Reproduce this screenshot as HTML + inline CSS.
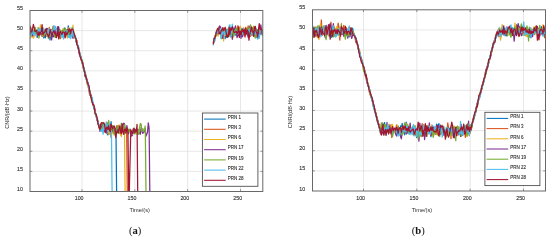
<!DOCTYPE html>
<html><head><meta charset="utf-8"><title>CNR</title>
<style>html,body{margin:0;padding:0;background:#fff}svg{display:block}</style></head>
<body>
<svg width="550" height="240" viewBox="0 0 550 240" font-family="'Liberation Sans', Arial, sans-serif">
<rect width="550" height="240" fill="#fff"/>
<clipPath id="ca"><rect x="30.0" y="10.5" width="232.8" height="181"/></clipPath>
<path d="M82 10.5V191.5M134.84 10.5V191.5M187.67 10.5V191.5M240.5 10.5V191.5M30.0 171.39H262.8M30.0 151.28H262.8M30.0 131.17H262.8M30.0 111.06H262.8M30.0 90.94H262.8M30.0 70.83H262.8M30.0 50.72H262.8M30.0 30.61H262.8" stroke="#dcdcdc" stroke-width="0.7" fill="none"/>
<g clip-path="url(#ca)" fill="none" stroke-width="1.25" stroke-linejoin="round"><path d="M30 32.02L30.22 31.08L31.01 32.88L31.81 34.81L32.6 33.45L33.39 35.13L34.18 31.83L34.98 27.81L35.77 33.56L36.56 33.97L37.35 30.48L38.15 30.9L38.94 31.69L39.73 34.94L40.52 32.11L41.32 29.84L42.11 36.24L42.9 33.45L43.69 37.98L44.49 36.06L45.28 37.8L46.07 32.76L46.86 36L47.66 31.17L48.45 31.53L49.24 32.61L50.03 39.91L50.83 33.71L51.62 32.17L52.41 31.66L53.2 36.82L54 33.52L54.79 35.09L55.58 34.56L56.38 28.69L57.17 34.55L57.96 32.12L58.75 29.24L59.55 33.85L60.34 32.37L61.13 31.67L61.92 31.82L62.72 35.86L63.51 31.78L64.3 27.76L65.09 36.87L65.89 29.32L66.68 31.64L67.47 34.03L68.26 25.76L69.06 29.66L69.85 35.85L70.64 31.92L71.43 30.5L72.23 33.2L73.02 31.03L73.81 34.24L74.6 34.89L75.4 36.02L76.19 41.04L76.98 42.71L77.77 46.39L78.57 48.62L79.36 53.19L80.15 55.46L80.94 58L81.74 59.7L82.53 62.41L83.32 68.41L84.11 70.79L84.91 72.06L85.7 78.27L86.49 79.44L87.28 82.01L88.08 83.39L88.87 87.1L89.66 91.34L90.45 94.41L91.25 97.28L92.04 98.16L92.83 103.53L93.62 106.39L94.42 108.62L95.21 112.21L96 115.32L96.79 119.44L97.59 121.13L98.38 124.66L99.17 125.74L99.96 129.37L100.76 126.23L101.55 124.3L102.34 127.83L103.13 123.62L103.93 127.28L104.72 125.62L105.51 131.87L106.3 126.81L107.1 133.56L107.89 134.86L108.68 129.46L109.47 131.54L110.27 128.27L111.06 121.72L111.85 131.75L112.64 131.21L113.44 128.66L114.23 127.85L115.02 130.11L115.81 130.3L115.95 129.47L116.95 223.68M213.29 42.75L214.09 41.91L214.88 38.05L215.67 35.19L216.47 33.79L217.26 31.2L218.05 34.71L218.84 28.97L219.64 31.41L220.43 31.74L221.22 33.87L222.01 32.39L222.81 38.29L223.6 35.57L224.39 30.88L225.18 38.7L225.98 29.36L226.77 37.5L227.56 29.64L228.35 34.67L229.15 29.57L229.94 31.61L230.73 36.84L231.52 28.1L232.32 27.5L233.11 32.23L233.9 32.88L234.69 32.52L235.49 35.08L236.28 28.57L237.07 33.72L237.86 32.18L238.66 34.51L239.45 33.98L240.24 36.03L241.03 28.08L241.83 32.5L242.62 28.99L243.41 31.98L244.2 34.2L245 33.04L245.79 33.78L246.58 31.99L247.37 33.2L248.17 32.96L248.96 36.34L249.75 34.55L250.54 26.83L251.34 34.12L252.13 35.33L252.92 30.96L253.71 27.6L254.51 36.58L255.3 32.67L256.09 34L256.88 37.54L257.68 29.71L258.47 32.09L259.26 31.79L260.05 34.38L260.85 30.59L261.64 33.71L262.43 32.47" stroke="#0072BD"/><path d="M30 35.5L30.22 35.83L31.01 27.83L31.81 33.61L32.6 31.1L33.39 32.12L34.18 33.4L34.98 33.61L35.77 30.04L36.56 32.97L37.35 32.49L38.15 31.95L38.94 28.33L39.73 29.88L40.52 30.82L41.32 33.79L42.11 36.35L42.9 29.04L43.69 28.99L44.49 32.46L45.28 30.32L46.07 29.57L46.86 29.41L47.66 29.13L48.45 33.45L49.24 27.27L50.03 35.93L50.83 29.32L51.62 30.47L52.41 29.28L53.2 26.12L54 27.36L54.79 35.61L55.58 37.32L56.38 29.46L57.17 35.2L57.96 32.06L58.75 29.38L59.55 37.18L60.34 38.64L61.13 31.21L61.92 31.88L62.72 32.79L63.51 31.9L64.3 34.72L65.09 36.77L65.89 32.54L66.68 35.07L67.47 37.18L68.26 30.45L69.06 32.24L69.85 30.81L70.64 35.26L71.43 34.37L72.23 35.74L73.02 35.96L73.81 33.93L74.6 36.64L75.4 37.32L76.19 39.81L76.98 40.51L77.77 47.51L78.57 47.7L79.36 51.87L80.15 54.78L80.94 59.52L81.74 61.34L82.53 62.9L83.32 66.91L84.11 69.73L84.91 73.2L85.7 74.47L86.49 78.9L87.28 84.55L88.08 85.75L88.87 90.3L89.66 94.87L90.45 94.6L91.25 95.37L92.04 99.94L92.83 104.43L93.62 107.16L94.42 107.68L95.21 111.87L96 115.02L96.79 118.16L97.59 121.06L98.38 123.16L99.17 126.48L99.96 129.9L100.76 129.51L101.55 124.81L102.34 128.94L103.13 123.49L103.93 131.35L104.72 127.94L105.51 127.74L106.3 132.19L107.1 122.58L107.89 123.61L108.68 129.97L109.47 126.16L110.27 127.58L111.06 137.35L111.85 128.27L112.64 129.4L113.44 129.05L114.23 132.9L115.02 130.41L115.81 130.21L116.61 125.91L117.4 128.74L118.19 129.92L118.98 125.06L119.78 131.83L120.57 131.37L121.36 136.02L122.15 125.19L122.95 127.19L123.74 127.4L124.53 128.25L125.32 130.09L126.12 129.79L126.65 131.77L127.65 223.68M213.29 43.63L214.09 40.6L214.88 36.13L215.67 34.57L216.47 32.59L217.26 33.84L218.05 34.01L218.84 26.99L219.64 30.43L220.43 31.81L221.22 33.1L222.01 35.5L222.81 32.23L223.6 29.28L224.39 33.25L225.18 32.73L225.98 32.71L226.77 31.68L227.56 37.02L228.35 32.76L229.15 34.7L229.94 29.24L230.73 34.44L231.52 30.21L232.32 27.24L233.11 33L233.9 33.91L234.69 31.42L235.49 32.03L236.28 35.14L237.07 30.57L237.86 25.7L238.66 32.83L239.45 32.66L240.24 35.3L241.03 31.02L241.83 35.93L242.62 35.49L243.41 28L244.2 34.86L245 28.63L245.79 27.24L246.58 31.21L247.37 30.28L248.17 25.89L248.96 32.64L249.75 33.88L250.54 36.26L251.34 31.89L252.13 27.38L252.92 29.01L253.71 34.97L254.51 34.7L255.3 33.6L256.09 31.1L256.88 32.66L257.68 31.35L258.47 31.09L259.26 32.96L260.05 32.14L260.85 31.37L261.64 32.28L262.43 30.44" stroke="#D95319"/><path d="M30 26.15L30.22 30.16L31.01 31.84L31.81 37.31L32.6 30.8L33.39 38.13L34.18 36.44L34.98 29.34L35.77 29.8L36.56 32.49L37.35 37.38L38.15 33.18L38.94 34.15L39.73 30.02L40.52 24.94L41.32 31.34L42.11 34.46L42.9 35.69L43.69 32.19L44.49 32.57L45.28 35.63L46.07 31.65L46.86 35.63L47.66 28.53L48.45 28.68L49.24 28.62L50.03 33.51L50.83 30.4L51.62 32.43L52.41 33.24L53.2 33.08L54 36.1L54.79 36.55L55.58 29.53L56.38 32.62L57.17 31.34L57.96 28.88L58.75 37.46L59.55 34.48L60.34 31.47L61.13 30.79L61.92 33.2L62.72 28.79L63.51 31.36L64.3 35.83L65.09 34.94L65.89 29.49L66.68 30.56L67.47 37.98L68.26 27.81L69.06 30.17L69.85 27.87L70.64 33.36L71.43 33.23L72.23 36.14L73.02 25.22L73.81 34.38L74.6 33.78L75.4 38.53L76.19 40.02L76.98 44.97L77.77 46.29L78.57 47.59L79.36 53.27L80.15 53.46L80.94 57.36L81.74 62.04L82.53 64.4L83.32 67.37L84.11 69.89L84.91 73.49L85.7 76.86L86.49 79.25L87.28 83.13L88.08 86.47L88.87 87.99L89.66 89.88L90.45 95.81L91.25 96.97L92.04 100.78L92.83 104.19L93.62 105L94.42 109.67L95.21 110.25L96 116.02L96.79 117.63L97.59 121.39L98.38 125.04L99.17 126.44L99.96 130.35L100.76 124.21L101.55 126.61L102.34 130.23L103.13 127.34L103.93 127.09L104.72 124.41L105.51 130.64L106.3 128.05L107.1 133.67L107.89 126.21L108.68 131.96L109.47 134.46L110.27 128.99L111.06 125.38L111.85 133.98L112.64 132.7L113.44 131.71L114.23 133.07L115.02 128.32L115.81 132.23L116.61 132.05L117.4 127.94L118.19 132.33L118.98 128.58L119.78 133.17L120.57 134.02L121.36 136.09L122.15 124.25L122.95 131.33L123.74 129.56L124.45 131.24L125.45 223.68M213.29 43.19L214.09 40.61L214.88 35.65L215.67 36.49L216.47 34.4L217.26 35.19L218.05 36.21L218.84 29.68L219.64 29.45L220.43 35.03L221.22 36.38L222.01 33.13L222.81 27.65L223.6 40.86L224.39 30.37L225.18 35.39L225.98 28.75L226.77 35.4L227.56 32.91L228.35 36.74L229.15 35.08L229.94 27.67L230.73 29.44L231.52 33.28L232.32 34.75L233.11 37.96L233.9 33.25L234.69 32.12L235.49 32.28L236.28 32.31L237.07 35.54L237.86 32.23L238.66 32.14L239.45 27.97L240.24 26.16L241.03 32.45L241.83 34.42L242.62 32.22L243.41 33.93L244.2 34.35L245 32.2L245.79 35.29L246.58 30.12L247.37 32.34L248.17 31.23L248.96 32.59L249.75 34.3L250.54 34.99L251.34 32.76L252.13 33.74L252.92 31.29L253.71 32.03L254.51 36.29L255.3 31.81L256.09 36.23L256.88 33.95L257.68 32.94L258.47 38.53L259.26 31.73L260.05 31.55L260.85 32.51L261.64 33.35L262.43 33.19" stroke="#EDB120"/><path d="M30 35.08L30.22 32.87L31.01 33.75L31.81 31.73L32.6 35.8L33.39 31.28L34.18 31.57L34.98 32.46L35.77 33.4L36.56 30.29L37.35 37.24L38.15 30.57L38.94 31.26L39.73 31.13L40.52 30.82L41.32 34.07L42.11 32.83L42.9 30.02L43.69 30.67L44.49 31.37L45.28 36.77L46.07 30.33L46.86 28.35L47.66 28.85L48.45 31.29L49.24 36.91L50.03 29.06L50.83 32.48L51.62 39.96L52.41 30.84L53.2 36.7L54 36.09L54.79 34.01L55.58 28.03L56.38 33.18L57.17 31.17L57.96 26.53L58.75 27.02L59.55 32.34L60.34 32.78L61.13 35.97L61.92 34.2L62.72 30.68L63.51 30.78L64.3 31.67L65.09 28.9L65.89 34.44L66.68 32.19L67.47 29.72L68.26 30.2L69.06 28.69L69.85 30.84L70.64 33.13L71.43 31.17L72.23 35.75L73.02 38.32L73.81 33.46L74.6 35.76L75.4 37.38L76.19 42.27L76.98 43.39L77.77 46.55L78.57 49.82L79.36 54.48L80.15 55.16L80.94 56.69L81.74 60.32L82.53 64.52L83.32 66.83L84.11 68.91L84.91 76.18L85.7 76.01L86.49 78.22L87.28 81.07L88.08 82.86L88.87 86.56L89.66 90.57L90.45 93.6L91.25 96.03L92.04 100.65L92.83 103.06L93.62 104.93L94.42 106.68L95.21 112.25L96 115.14L96.79 117.85L97.59 119.49L98.38 124.16L99.17 125.37L99.96 131.33L100.76 126.75L101.55 127.09L102.34 124.21L103.13 123.65L103.93 132.12L104.72 130.44L105.51 126.64L106.3 130.05L107.1 133.02L107.89 124.97L108.68 126.89L109.47 127.06L110.27 130.33L111.06 125.63L111.85 129.85L112.64 125.67L113.44 132.26L114.23 132.18L115.02 128.88L115.81 131.9L116.61 127.56L117.4 128.98L118.19 132.87L118.98 129.74L119.78 131.18L120.57 127.17L121.36 132.21L122.15 131.65L122.95 126.4L123.74 123.14L124.53 123.97L125.32 130.24L126.12 129.78L126.91 125.59L127.7 130.97L128.49 133.75L129.29 130.26L130.08 129.22L130.87 133.37L131.66 136.03L132.46 135.38L133.25 128.64L134.04 133.24L134.84 131.28L135.63 130.16L136.42 128.87L137.21 131.96L138.01 129.3L138.8 133.78L139.59 132.1L140.38 134.24L141.18 127.32L141.97 131.06L142.76 133.36L143.55 132.13L144.35 131.72L145.14 128.76L145.93 136.16L146.72 134.37L147.52 132.26L148.31 122.9L149.1 127.98L149.15 131.44L150.15 223.68M213.29 42.52L214.09 38.18L214.88 38.23L215.67 35.68L216.47 31.06L217.26 30.47L218.05 29.91L218.84 33.61L219.64 25.98L220.43 26.66L221.22 30.24L222.01 29.87L222.81 38.38L223.6 30.02L224.39 32.63L225.18 30.66L225.98 29.88L226.77 33.09L227.56 37.32L228.35 30.86L229.15 34.34L229.94 33.05L230.73 33.92L231.52 33.09L232.32 39.26L233.11 28.2L233.9 31.22L234.69 28.53L235.49 25.81L236.28 31.95L237.07 37.67L237.86 34.82L238.66 35.81L239.45 33.59L240.24 31.77L241.03 38.3L241.83 30.94L242.62 36.76L243.41 31.09L244.2 32.36L245 33L245.79 32.25L246.58 33.71L247.37 33.94L248.17 37.3L248.96 32.11L249.75 26.23L250.54 25.81L251.34 27.87L252.13 29.8L252.92 34.14L253.71 27.49L254.51 32.19L255.3 32.23L256.09 32.93L256.88 31.73L257.68 33.38L258.47 32.28L259.26 35.42L260.05 33.19L260.85 24.86L261.64 32.24L262.43 32.77" stroke="#7E2F8E"/><path d="M30 30.35L30.22 29.8L31.01 35.51L31.81 32.67L32.6 29.14L33.39 31.17L34.18 31.64L34.98 27.14L35.77 34.15L36.56 31.76L37.35 33.65L38.15 27.34L38.94 38.14L39.73 34.12L40.52 33.68L41.32 29.94L42.11 30.12L42.9 27.64L43.69 36.96L44.49 29.66L45.28 32.94L46.07 34.11L46.86 30.33L47.66 34.91L48.45 38.53L49.24 33.18L50.03 36.72L50.83 34.05L51.62 30.85L52.41 31.04L53.2 27.04L54 32.65L54.79 36.83L55.58 34.39L56.38 34.9L57.17 35.84L57.96 30.65L58.75 34.04L59.55 38.22L60.34 29.83L61.13 32.37L61.92 30.9L62.72 31.69L63.51 30.04L64.3 31.9L65.09 28.14L65.89 30.69L66.68 30.79L67.47 30.73L68.26 36.6L69.06 32.57L69.85 32.9L70.64 31.51L71.43 36.57L72.23 27.48L73.02 32.85L73.81 35.63L74.6 37.75L75.4 38.09L76.19 40.33L76.98 43.82L77.77 45.72L78.57 49.55L79.36 51.09L80.15 55.63L80.94 57.81L81.74 59.6L82.53 60.69L83.32 68.03L84.11 70.39L84.91 73.86L85.7 74.91L86.49 80.26L87.28 82.48L88.08 84.95L88.87 89.11L89.66 92.1L90.45 94.54L91.25 99.51L92.04 101.74L92.83 103.51L93.62 105.85L94.42 109.27L95.21 114.2L96 115.64L96.79 117.13L97.59 120.44L98.38 124.22L99.17 128.22L99.96 129.4L100.76 128.01L101.55 130.22L102.34 129.32L103.13 122.35L103.93 126.55L104.72 123.77L105.51 129.26L106.3 124.91L107.1 130.06L107.89 128.82L108.68 120.48L109.47 126.18L110.27 130.41L111.06 129.21L111.85 128.03L112.64 125.31L113.44 130.9L114.23 135.04L115.02 130.44L115.81 129.59L116.61 129.38L117.4 125.58L118.19 128.88L118.98 127.36L119.78 133.59L120.57 127.32L121.36 123.43L122.15 127.75L122.95 129.48L123.74 129.85L124.53 124.65L125.32 133.43L126.12 130.85L126.91 129.05L127.7 128.17L128.49 132.01L129.29 129.65L130.08 131.56L130.87 130.31L131.66 131.15L132.46 134.43L133.25 130.85L134.04 127.98L134.84 133.94L135.63 131.62L136.42 128.73L137.21 134.33L138.01 130.31L138.8 134.33L139.59 127.28L140.38 123.5L141.18 124.45L141.97 131.68L142.76 128.6L143.55 130.61L144.35 130.68L145.14 126.03L145.35 134.35L146.35 223.68M213.29 42.11L214.09 40.73L214.88 36.25L215.67 35.01L216.47 33.33L217.26 31.15L218.05 29.71L218.84 31.91L219.64 30.49L220.43 33.66L221.22 38.71L222.01 29.2L222.81 29.83L223.6 31.55L224.39 31.8L225.18 28.77L225.98 33.45L226.77 34.24L227.56 32.61L228.35 28.29L229.15 36.37L229.94 28.28L230.73 34.02L231.52 35.47L232.32 28.07L233.11 32.32L233.9 36.1L234.69 33.14L235.49 29.1L236.28 28.28L237.07 33.36L237.86 30.74L238.66 29.78L239.45 34.04L240.24 30.91L241.03 32.12L241.83 33.7L242.62 33.56L243.41 31.81L244.2 31.93L245 33.79L245.79 33.36L246.58 28.53L247.37 31.35L248.17 29.24L248.96 28.25L249.75 30.17L250.54 24.89L251.34 34.61L252.13 29.48L252.92 33.02L253.71 26.2L254.51 26.68L255.3 38.15L256.09 35.06L256.88 29.93L257.68 29.54L258.47 29.71L259.26 32.24L260.05 30.59L260.85 29.97L261.64 32.26L262.43 28.8" stroke="#77AC30"/><path d="M30 39.11L30.22 30.03L31.01 35.26L31.81 29.01L32.6 32.74L33.39 34.81L34.18 30.85L34.98 34.88L35.77 34.88L36.56 36.94L37.35 32.1L38.15 30.46L38.94 28.81L39.73 32.46L40.52 28.73L41.32 31.96L42.11 32.31L42.9 30.22L43.69 28.7L44.49 33.09L45.28 32.78L46.07 32.52L46.86 31.76L47.66 34.84L48.45 28.79L49.24 33.28L50.03 30.57L50.83 34.61L51.62 30.89L52.41 30.79L53.2 33.34L54 25.68L54.79 30.85L55.58 26.44L56.38 29.01L57.17 34.1L57.96 33.22L58.75 30.65L59.55 31.83L60.34 31.86L61.13 32.92L61.92 37.69L62.72 32.73L63.51 38.98L64.3 30.85L65.09 34.3L65.89 34.26L66.68 32.71L67.47 31.16L68.26 36.53L69.06 37.54L69.85 35.43L70.64 38.56L71.43 35.34L72.23 27.62L73.02 36.49L73.81 33.38L74.6 37.35L75.4 37.39L76.19 40.61L76.98 43.02L77.77 45.14L78.57 46.65L79.36 51.52L80.15 54.61L80.94 58.94L81.74 60.08L82.53 64.09L83.32 65.81L84.11 69.88L84.91 70.74L85.7 78.25L86.49 79.24L87.28 80.83L88.08 85.33L88.87 88.88L89.66 91.27L90.45 95.63L91.25 96.83L92.04 97.05L92.83 101.63L93.62 107.37L94.42 110.1L95.21 112.55L96 113.87L96.79 119.09L97.59 121.94L98.38 123.06L99.17 126.1L99.96 130.61L100.76 129.75L101.55 131.44L102.34 128.99L103.13 134.19L103.93 124.85L104.72 129.52L105.51 126.17L106.3 121.92L107.1 124.35L107.89 132.01L108.68 125.69L109.47 124.92L110.27 131.2L111.06 132.01L111.45 131.43L112.45 223.68M213.29 45.31L214.09 38.89L214.88 40.85L215.67 36.57L216.47 32.85L217.26 32.73L218.05 31.5L218.84 31.17L219.64 32.69L220.43 28.45L221.22 38.73L222.01 32.02L222.81 34.26L223.6 31.6L224.39 31.33L225.18 34.88L225.98 34.03L226.77 29.53L227.56 30.92L228.35 34.15L229.15 25.62L229.94 24.77L230.73 36.61L231.52 31.07L232.32 24.15L233.11 29.56L233.9 31.33L234.69 32.67L235.49 33.72L236.28 32.69L237.07 33.75L237.86 29.68L238.66 33.27L239.45 33.4L240.24 35.79L241.03 32.17L241.83 34.82L242.62 32.59L243.41 28.75L244.2 30.87L245 30.44L245.79 30.9L246.58 31.83L247.37 32.42L248.17 32.98L248.96 29.64L249.75 35.42L250.54 27.81L251.34 31.91L252.13 34.37L252.92 33.55L253.71 34.14L254.51 31.52L255.3 34.27L256.09 28.44L256.88 34.47L257.68 39.15L258.47 34.31L259.26 38.32L260.05 32.14L260.85 28.7L261.64 29.99L262.43 36.22" stroke="#4DBEEE"/><path d="M30 34.41L30.22 26.44L31.01 31.02L31.81 32.01L32.6 28.71L33.39 24.32L34.18 27.95L34.98 31.58L35.77 30.91L36.56 30.08L37.35 33.94L38.15 35.34L38.94 31.85L39.73 34.99L40.52 32.21L41.32 31.72L42.11 24.67L42.9 34.69L43.69 32.4L44.49 32.53L45.28 30.65L46.07 28.73L46.86 33.56L47.66 34.6L48.45 37.17L49.24 34.92L50.03 30.34L50.83 31.88L51.62 35.2L52.41 33.19L53.2 31.92L54 30.44L54.79 33.88L55.58 32.8L56.38 37.72L57.17 35.63L57.96 26.94L58.75 38.88L59.55 33.08L60.34 31.33L61.13 33.19L61.92 34.55L62.72 32.21L63.51 32.03L64.3 32.28L65.09 37.91L65.89 32.48L66.68 34.7L67.47 33.74L68.26 31.32L69.06 30.04L69.85 29.27L70.64 33.72L71.43 29.41L72.23 28.92L73.02 29.61L73.81 32.49L74.6 35.87L75.4 37.96L76.19 39.23L76.98 44.6L77.77 45.57L78.57 49.41L79.36 52.2L80.15 56.86L80.94 58.84L81.74 60.81L82.53 62.72L83.32 65.62L84.11 69.93L84.91 73.07L85.7 76.86L86.49 78.39L87.28 82.19L88.08 84.18L88.87 85.81L89.66 90.98L90.45 95.77L91.25 98.02L92.04 101.75L92.83 104.46L93.62 104.45L94.42 108.77L95.21 113.9L96 114.29L96.79 116.57L97.59 121.55L98.38 124.94L99.17 127.55L99.96 129.82L100.76 124.09L101.55 122.65L102.34 122.84L103.13 123.19L103.93 122.88L104.72 125.37L105.51 132.65L106.3 128.35L107.1 127.11L107.89 129.54L108.68 125.55L109.47 129.8L110.27 131.78L111.06 124.29L111.85 126.93L112.64 128.5L113.44 126.34L114.23 126.01L115.02 128.44L115.81 137.55L116.61 131.9L117.4 131.29L118.19 133.07L118.98 129.34L119.78 126.21L120.57 131.68L121.36 133.83L122.15 123.71L122.95 131.75L123.74 134.32L124.53 129.63L125.32 129.07L126.12 132.76L126.91 127.99L127.9 130.36L128.8 199.54L129.1 199.54L130.8 129.96L131.66 132.3L132.46 133.72L133.25 130.21L134.04 128.32L134.84 132.86L135.63 129.78L136.42 131.17L137.05 124.35L138.05 223.68M213.29 44.24L214.09 39L214.88 38.01L215.67 35.39L216.47 31.65L217.26 29.21L218.05 28.04L218.84 30.99L219.64 33.9L220.43 33.71L221.22 30.42L222.01 30.2L222.81 27.63L223.6 30.71L224.39 28.69L225.18 27.26L225.98 31.5L226.77 36.68L227.56 35.72L228.35 36.53L229.15 27.03L229.94 34.68L230.73 28.15L231.52 30.18L232.32 26.64L233.11 28.87L233.9 32.34L234.69 32.65L235.49 31.75L236.28 31.47L237.07 33.68L237.86 32.12L238.66 26.97L239.45 37.36L240.24 31.21L241.03 34.86L241.83 31.43L242.62 29.38L243.41 32.2L244.2 29.59L245 37.01L245.79 28.55L246.58 33.91L247.37 30.07L248.17 31.45L248.96 40.13L249.75 34.39L250.54 31.33L251.34 27.14L252.13 31.12L252.92 31.21L253.71 36.45L254.51 27.53L255.3 26.35L256.09 31.93L256.88 32.71L257.68 37.1L258.47 29.25L259.26 23.54L260.05 29.77L260.85 28.05L261.64 30.32L262.43 35.11" stroke="#A2142F"/></g>
<rect x="30.0" y="10.5" width="232.8" height="181" fill="none" stroke="#686868" stroke-width="1"/>
<path d="M82 191.5v-2.3M82 10.5v2.3M134.84 191.5v-2.3M134.84 10.5v2.3M187.67 191.5v-2.3M187.67 10.5v2.3M240.5 191.5v-2.3M240.5 10.5v2.3M30.0 171.39h2.3M262.8 171.39h-2.3M30.0 151.28h2.3M262.8 151.28h-2.3M30.0 131.17h2.3M262.8 131.17h-2.3M30.0 111.06h2.3M262.8 111.06h-2.3M30.0 90.94h2.3M262.8 90.94h-2.3M30.0 70.83h2.3M262.8 70.83h-2.3M30.0 50.72h2.3M262.8 50.72h-2.3M30.0 30.61h2.3M262.8 30.61h-2.3" stroke="#686868" stroke-width="0.7" fill="none"/>
<g font-size="5.3" fill="#2a2a2a" stroke="#2a2a2a" stroke-width="0.1"><text x="23" y="191.05" text-anchor="end">10</text><text x="23" y="170.94" text-anchor="end">15</text><text x="23" y="150.83" text-anchor="end">20</text><text x="23" y="130.72" text-anchor="end">25</text><text x="23" y="110.61" text-anchor="end">30</text><text x="23" y="90.49" text-anchor="end">35</text><text x="23" y="70.38" text-anchor="end">40</text><text x="23" y="50.27" text-anchor="end">45</text><text x="23" y="30.16" text-anchor="end">50</text><text x="23" y="10.05" text-anchor="end">55</text><text x="79.15" y="200.25" text-anchor="middle">100</text><text x="131.99" y="200.25" text-anchor="middle">150</text><text x="184.82" y="200.25" text-anchor="middle">200</text><text x="237.66" y="200.25" text-anchor="middle">250</text></g>
<text x="139.7" y="211.8" text-anchor="middle" font-size="5.6" fill="#2a2a2a">Time/(s)</text>
<text transform="translate(9.2 112.6) rotate(-90)" text-anchor="middle" font-size="5.5" fill="#2a2a2a">CNR/(dB·Hz)</text>
<rect x="202.4" y="113" width="55.5" height="73.3" fill="#fff" stroke="#505050" stroke-width="0.9"/>
<g font-size="4.5" fill="#2a2a2a"><path d="M204.1 119.1H225.7" stroke="#0072BD" stroke-width="1.05"/><text x="227.8" y="118.8" stroke="#2a2a2a" stroke-width="0.1">PRN 1</text><path d="M204.1 129.3H225.7" stroke="#D95319" stroke-width="1.05"/><text x="227.8" y="129" stroke="#2a2a2a" stroke-width="0.1">PRN 3</text><path d="M204.1 139.5H225.7" stroke="#EDB120" stroke-width="1.05"/><text x="227.8" y="139.2" stroke="#2a2a2a" stroke-width="0.1">PRN 6</text><path d="M204.1 149.7H225.7" stroke="#7E2F8E" stroke-width="1.05"/><text x="227.8" y="149.4" stroke="#2a2a2a" stroke-width="0.1">PRN 17</text><path d="M204.1 159.9H225.7" stroke="#77AC30" stroke-width="1.05"/><text x="227.8" y="159.6" stroke="#2a2a2a" stroke-width="0.1">PRN 19</text><path d="M204.1 170.1H225.7" stroke="#4DBEEE" stroke-width="1.05"/><text x="227.8" y="169.8" stroke="#2a2a2a" stroke-width="0.1">PRN 22</text><path d="M204.1 180.3H225.7" stroke="#A2142F" stroke-width="1.05"/><text x="227.8" y="180" stroke="#2a2a2a" stroke-width="0.1">PRN 28</text></g>
<clipPath id="cb"><rect x="312.5" y="9.8" width="233" height="181.2"/></clipPath>
<path d="M363.5 9.8V191.0M416.83 9.8V191.0M470.17 9.8V191.0M523.5 9.8V191.0M312.5 170.87H545.5M312.5 150.73H545.5M312.5 130.6H545.5M312.5 110.47H545.5M312.5 90.33H545.5M312.5 70.2H545.5M312.5 50.07H545.5M312.5 29.93H545.5" stroke="#dcdcdc" stroke-width="0.7" fill="none"/>
<g clip-path="url(#cb)" fill="none" stroke-width="1.25" stroke-linejoin="round"><path d="M312.5 31.24L313.37 27.07L314.17 27.5L314.97 32.95L315.77 32.28L316.57 33L317.37 29.55L318.17 31.52L318.97 29L319.77 37.14L320.57 26.42L321.37 31.65L322.17 29.21L322.97 31.77L323.77 32.53L324.57 29.89L325.37 28.75L326.17 31.98L326.97 31.82L327.77 29.19L328.57 34.08L329.37 36.1L330.17 30.1L330.97 33.45L331.77 37.37L332.57 33.9L333.37 32.81L334.17 35.09L334.97 36.03L335.77 31.23L336.57 28.52L337.37 32.07L338.17 33.68L338.97 30.13L339.77 29.09L340.57 32.28L341.37 29.63L342.17 28.07L342.97 31.99L343.77 33.9L344.57 30.25L345.37 30.57L346.17 27.89L346.97 35.38L347.77 33.43L348.57 34L349.37 36.85L350.17 31.07L350.97 29.93L351.77 34.17L352.57 28.01L353.37 32.26L354.17 33.91L354.97 36.15L355.77 37.88L356.57 43.34L357.37 43.84L358.17 46.79L358.97 52.64L359.77 53.09L360.57 56.82L361.37 58.59L362.17 63.08L362.97 65.59L363.77 68.18L364.57 72.67L365.37 73.91L366.17 77.78L366.97 80.07L367.77 84.32L368.57 85.4L369.37 89L370.17 92.96L370.97 95.01L371.77 97.27L372.57 99.65L373.37 106.73L374.17 106.78L374.97 110.31L375.77 114L376.57 118.13L377.37 118.41L378.17 124.47L378.97 125.28L379.77 127.42L380.57 133.94L381.37 129.74L382.17 133.09L382.97 128.19L383.77 124.2L384.57 122.65L385.37 134.98L386.17 131.19L386.97 127.15L387.77 124.4L388.57 128.2L389.37 132.02L390.17 128.72L390.97 129.79L391.77 130.44L392.57 132.2L393.37 128.63L394.17 128.93L394.97 130.26L395.77 130.72L396.57 134.18L397.37 131.64L398.17 126.22L398.97 130.75L399.77 134.8L400.57 125.89L401.37 128.51L402.17 123.45L402.97 130.06L403.77 131.77L404.57 134.96L405.37 126.05L406.17 122.06L406.97 133L407.77 132.45L408.57 128.46L409.37 133.07L410.17 131.28L410.97 131.55L411.77 129.81L412.57 126.91L413.37 130.38L414.17 127.5L414.97 131.82L415.77 129.42L416.57 137.37L417.37 135.16L418.17 127.93L418.97 132.4L419.77 128.64L420.57 128.77L421.37 126.26L422.17 127.91L422.97 127.25L423.77 130.89L424.57 132.79L425.37 132.9L426.17 132.12L426.97 134.19L427.77 132.31L428.57 130.85L429.37 129.75L430.17 131.65L430.97 136.76L431.77 130.8L432.57 129.84L433.37 127.07L434.17 128.71L434.97 132.65L435.77 132.91L436.57 124.1L437.37 128.14L438.17 124.68L438.97 123.72L439.77 133.22L440.57 129.34L441.37 129.11L442.17 128.78L442.97 128.84L443.77 129.94L444.57 130.03L445.37 135.43L446.17 131.12L446.97 133L447.77 130.18L448.57 132.1L449.37 128.6L450.17 127.95L450.97 129.6L451.77 129.57L452.57 130.29L453.37 132.04L454.17 131.12L454.97 132.19L455.77 129.34L456.57 130.55L457.37 128.72L458.17 134.88L458.97 127.74L459.77 133.05L460.57 132.96L461.37 131.23L462.17 132.41L462.97 129.66L463.77 132.45L464.57 134.04L465.37 133.32L466.17 126.37L466.97 130.46L467.77 134.36L468.57 130.57L469.37 135.61L470.17 124.83L470.97 130.63L471.77 125.19L472.57 122.09L473.37 121.48L474.17 116.35L474.97 112.48L475.77 110.1L476.57 107.33L477.37 103.48L478.17 101.41L478.97 98.18L479.77 95.72L480.57 91.78L481.37 90.67L482.17 85.55L482.97 84.1L483.77 81.79L484.57 77.01L485.37 72.38L486.17 70.25L486.97 69.01L487.77 64.53L488.57 62.9L489.37 59.48L490.17 56.21L490.97 56.1L491.77 50.07L492.57 48.57L493.37 45.23L494.17 43.32L494.97 40.7L495.77 37.62L496.57 33.56L497.37 31.16L498.17 32.39L498.97 28.4L499.77 32.41L500.57 37.46L501.37 30.93L502.17 29.97L502.97 32.7L503.77 30.39L504.57 29.54L505.37 34.05L506.17 35.98L506.97 32.04L507.77 32.01L508.57 32.45L509.37 28.24L510.17 25.92L510.97 32.65L511.77 29.15L512.57 28.39L513.37 29.1L514.17 28.05L514.97 32.57L515.77 29.02L516.57 24.98L517.37 28.82L518.17 33.29L518.97 29.43L519.77 27.38L520.57 30.18L521.37 33.11L522.17 26.5L522.97 35.27L523.77 29.76L524.57 31.39L525.37 35.09L526.17 27.51L526.97 30.25L527.77 35.01L528.57 29.45L529.37 32.7L530.17 37.32L530.97 33.51L531.77 30.51L532.57 29.35L533.37 30.82L534.17 31.2L534.97 29.87L535.77 32.01L536.57 27.65L537.37 30.88L538.17 30.42L538.97 29.64L539.77 34.66L540.57 33.57L541.37 26.54L542.17 30.29L542.97 32.23L543.77 30.27L544.57 32.86L545.37 30.47" stroke="#0072BD"/><path d="M312.5 33.43L313.37 30.48L314.17 36.3L314.97 27.16L315.77 32.95L316.57 36.31L317.37 32.05L318.17 32.51L318.97 30.86L319.77 34.94L320.57 30.09L321.37 19.96L322.17 35.36L322.97 30.28L323.77 32.32L324.57 30.74L325.37 37.03L326.17 34.96L326.97 29.9L327.77 31.46L328.57 26.21L329.37 33.56L330.17 30.79L330.97 22.19L331.77 33.75L332.57 34.18L333.37 31.45L334.17 31.48L334.97 28.69L335.77 30.94L336.57 33.72L337.37 30.68L338.17 23.06L338.97 27.35L339.77 40.08L340.57 31.79L341.37 34.09L342.17 29.39L342.97 31.89L343.77 25.27L344.57 28.42L345.37 28.55L346.17 30.76L346.97 31.47L347.77 30.29L348.57 27.3L349.37 29.72L350.17 32.57L350.97 27.59L351.77 31.25L352.57 32.6L353.37 34.21L354.17 35.35L354.97 37.4L355.77 42.41L356.57 40.5L357.37 43.9L358.17 47.78L358.97 49.24L359.77 52.98L360.57 56.07L361.37 62.52L362.17 62.83L362.97 64.93L363.77 66.65L364.57 69.39L365.37 72.91L366.17 79.05L366.97 83.32L367.77 83L368.57 86.68L369.37 88.57L370.17 92.9L370.97 95.5L371.77 100.6L372.57 101.27L373.37 105.37L374.17 107.43L374.97 110.31L375.77 114.03L376.57 116.53L377.37 119.95L378.17 122.03L378.97 125.36L379.77 129.65L380.57 132.72L381.37 123.15L382.17 129.2L382.97 125.78L383.77 127.81L384.57 130.99L385.37 131.67L386.17 128.95L386.97 128.59L387.77 127.51L388.57 133.63L389.37 131.53L390.17 129.98L390.97 124.58L391.77 137.39L392.57 128.42L393.37 131.62L394.17 128.53L394.97 131.55L395.77 128.83L396.57 125L397.37 128.93L398.17 128.71L398.97 128.93L399.77 132.58L400.57 128.44L401.37 130.89L402.17 132.85L402.97 130.38L403.77 131.01L404.57 127.87L405.37 130.46L406.17 132.04L406.97 125.66L407.77 127.18L408.57 126.29L409.37 128.44L410.17 130.76L410.97 131.77L411.77 131.33L412.57 127.39L413.37 130.09L414.17 135.24L414.97 130.59L415.77 135.04L416.57 129.95L417.37 134.37L418.17 134.57L418.97 130.12L419.77 130.76L420.57 135.87L421.37 128.11L422.17 123.56L422.97 135.3L423.77 124.67L424.57 132.75L425.37 132.13L426.17 131.12L426.97 135.2L427.77 126.37L428.57 128.97L429.37 132.98L430.17 131.45L430.97 135.45L431.77 131.68L432.57 127.55L433.37 136.09L434.17 131.98L434.97 130.1L435.77 127.2L436.57 126.23L437.37 132.05L438.17 132.96L438.97 129.13L439.77 131.75L440.57 131.58L441.37 127.1L442.17 125.14L442.97 129.73L443.77 131.21L444.57 128.75L445.37 136.67L446.17 130.65L446.97 134.01L447.77 122.89L448.57 128.27L449.37 130.14L450.17 131.22L450.97 138.69L451.77 128.3L452.57 125.34L453.37 132.94L454.17 128.39L454.97 128.27L455.77 135.58L456.57 127.58L457.37 126.23L458.17 129.86L458.97 130.8L459.77 128.06L460.57 135.56L461.37 130.3L462.17 127.2L462.97 134.6L463.77 127.4L464.57 131.94L465.37 137.3L466.17 130.94L466.97 133.73L467.77 129.57L468.57 134.37L469.37 127.21L470.17 132.98L470.97 128.36L471.77 126.49L472.57 123.14L473.37 118.29L474.17 116.45L474.97 114.17L475.77 112.18L476.57 106.25L477.37 103.74L478.17 102L478.97 98.29L479.77 96.81L480.57 93.77L481.37 90.53L482.17 86.08L482.97 83.13L483.77 81.37L484.57 76.56L485.37 73.48L486.17 71.2L486.97 67.13L487.77 65.72L488.57 62.49L489.37 58.76L490.17 56.36L490.97 52.35L491.77 51.82L492.57 45.6L493.37 45.33L494.17 41.74L494.97 40.53L495.77 35.76L496.57 33.02L497.37 31.88L498.17 29.7L498.97 36.72L499.77 34.04L500.57 32.91L501.37 34.33L502.17 27.84L502.97 30.78L503.77 31.42L504.57 29.81L505.37 34.33L506.17 34.2L506.97 34.11L507.77 29.78L508.57 30.27L509.37 29.53L510.17 27.96L510.97 35.61L511.77 33.1L512.57 30.88L513.37 35.58L514.17 33.01L514.97 28.16L515.77 27.88L516.57 27.96L517.37 31.21L518.17 32.01L518.97 27.95L519.77 32.51L520.57 30.28L521.37 27.18L522.17 32.5L522.97 33.26L523.77 31.37L524.57 29.46L525.37 29.83L526.17 30.85L526.97 29.6L527.77 36.37L528.57 34.04L529.37 30.83L530.17 34.26L530.97 35.56L531.77 35.14L532.57 34.23L533.37 31.9L534.17 34.55L534.97 30.6L535.77 26.02L536.57 31.81L537.37 27.34L538.17 30.44L538.97 34.86L539.77 32.15L540.57 34.43L541.37 28.93L542.17 34.96L542.97 27.19L543.77 29.53L544.57 37.69L545.37 28.88" stroke="#D95319"/><path d="M312.5 26.46L313.37 33.83L314.17 28.25L314.97 36.99L315.77 30.55L316.57 36.56L317.37 29.83L318.17 36.96L318.97 39.61L319.77 30.1L320.57 24.16L321.37 33.21L322.17 28.74L322.97 30.99L323.77 32.36L324.57 29.41L325.37 26.18L326.17 35.22L326.97 29.57L327.77 30.26L328.57 35.82L329.37 26.27L330.17 25.22L330.97 34.34L331.77 25.88L332.57 31.17L333.37 31.86L334.17 26.62L334.97 30.63L335.77 30.33L336.57 26.58L337.37 27.3L338.17 28.54L338.97 35.74L339.77 36.28L340.57 27.81L341.37 34.25L342.17 30.88L342.97 34.72L343.77 31.92L344.57 35.36L345.37 26.22L346.17 34.54L346.97 31.73L347.77 31.95L348.57 27.58L349.37 35.86L350.17 31.57L350.97 32.25L351.77 30.19L352.57 30.87L353.37 33.81L354.17 34.38L354.97 37.08L355.77 38.47L356.57 41.85L357.37 45.37L358.17 47.56L358.97 50.06L359.77 50.77L360.57 57.11L361.37 59.16L362.17 60.78L362.97 68.08L363.77 70.7L364.57 73.05L365.37 74.77L366.17 74.7L366.97 80.2L367.77 82.23L368.57 86.98L369.37 92.71L370.17 95.54L370.97 94.54L371.77 98.57L372.57 103.38L373.37 103.48L374.17 109.71L374.97 109.5L375.77 112.14L376.57 117.83L377.37 121.27L378.17 121.93L378.97 127.29L379.77 127.95L380.57 133.45L381.37 126.16L382.17 128.57L382.97 130.37L383.77 131.96L384.57 128.4L385.37 135.35L386.17 130.23L386.97 130.69L387.77 127.3L388.57 133.59L389.37 124.1L390.17 130.68L390.97 133.4L391.77 125.32L392.57 124.48L393.37 130.49L394.17 132.79L394.97 129.91L395.77 132.23L396.57 131.04L397.37 125.05L398.17 128.84L398.97 129.67L399.77 129.05L400.57 130.38L401.37 127.5L402.17 127.41L402.97 131.45L403.77 129.94L404.57 122.53L405.37 128.96L406.17 130.93L406.97 123.75L407.77 130.34L408.57 133.92L409.37 128.22L410.17 133.31L410.97 132.02L411.77 129.38L412.57 130.85L413.37 132.91L414.17 132.23L414.97 132.38L415.77 126.72L416.57 132.81L417.37 132.33L418.17 123.93L418.97 132.29L419.77 125.71L420.57 126.28L421.37 131.01L422.17 135.1L422.97 129.07L423.77 128.37L424.57 127.42L425.37 130.31L426.17 126.66L426.97 126.07L427.77 133.95L428.57 125.95L429.37 129.99L430.17 132.38L430.97 131.59L431.77 124.52L432.57 127.4L433.37 136.33L434.17 130.3L434.97 131.02L435.77 131.14L436.57 132.23L437.37 135.27L438.17 127.8L438.97 133.61L439.77 131.77L440.57 132.52L441.37 132.93L442.17 128.19L442.97 129.35L443.77 132.76L444.57 133.63L445.37 132.1L446.17 127.47L446.97 130.18L447.77 129.84L448.57 131.65L449.37 131.42L450.17 129.89L450.97 136.53L451.77 125.4L452.57 133.13L453.37 132.42L454.17 126.28L454.97 129.88L455.77 130.46L456.57 132.47L457.37 135.62L458.17 130L458.97 126.75L459.77 133.49L460.57 126.21L461.37 134.23L462.17 132.96L462.97 128.97L463.77 130.6L464.57 128.37L465.37 132.99L466.17 133.92L466.97 136.61L467.77 134.48L468.57 134.06L469.37 135.19L470.17 129.6L470.97 129.59L471.77 128.17L472.57 119.75L473.37 120.74L474.17 118.22L474.97 112.19L475.77 109.26L476.57 109.04L477.37 106.41L478.17 102.82L478.97 97.22L479.77 95.94L480.57 93.52L481.37 89.56L482.17 85.05L482.97 85.17L483.77 80.93L484.57 79.12L485.37 71.8L486.17 69.21L486.97 67.24L487.77 65.53L488.57 61.55L489.37 61.87L490.17 55.98L490.97 54.92L491.77 51.9L492.57 48.18L493.37 44.81L494.17 40.85L494.97 38.02L495.77 36.17L496.57 35.7L497.37 32.36L498.17 32.69L498.97 28.12L499.77 34.46L500.57 40.14L501.37 32.89L502.17 24.61L502.97 29.88L503.77 31.95L504.57 28.57L505.37 29.76L506.17 29.89L506.97 32.96L507.77 31.1L508.57 30.71L509.37 33.36L510.17 34.86L510.97 30.91L511.77 28.3L512.57 29.31L513.37 29.79L514.17 29.76L514.97 23.23L515.77 30.53L516.57 28.07L517.37 25.2L518.17 31.18L518.97 30.51L519.77 28.06L520.57 26.04L521.37 30.36L522.17 30.2L522.97 31.06L523.77 35.13L524.57 27.83L525.37 32.14L526.17 36.74L526.97 31.8L527.77 36.77L528.57 34.5L529.37 31.28L530.17 34.22L530.97 27.97L531.77 35.94L532.57 30.5L533.37 29.57L534.17 26.73L534.97 28.42L535.77 30.59L536.57 31.06L537.37 31.5L538.17 27.74L538.97 33.38L539.77 29.68L540.57 31.61L541.37 30.56L542.17 32.14L542.97 24.6L543.77 33.37L544.57 30.51L545.37 30.44" stroke="#EDB120"/><path d="M312.5 29.4L313.37 29.89L314.17 29.97L314.97 28.22L315.77 36.03L316.57 31.27L317.37 35.18L318.17 30.57L318.97 35.02L319.77 34.32L320.57 31.49L321.37 26.92L322.17 29.49L322.97 30.37L323.77 26.89L324.57 34.27L325.37 37.87L326.17 32.63L326.97 32.17L327.77 27.42L328.57 24.58L329.37 35.48L330.17 23.52L330.97 26.39L331.77 28.67L332.57 30.14L333.37 23.68L334.17 31.05L334.97 32.79L335.77 30.86L336.57 35.6L337.37 29.82L338.17 31.64L338.97 30.26L339.77 30.17L340.57 34.62L341.37 27.16L342.17 34.49L342.97 28.51L343.77 36.3L344.57 30.13L345.37 33.87L346.17 31.16L346.97 33.34L347.77 38.17L348.57 34.82L349.37 31.14L350.17 29.46L350.97 36.16L351.77 38.48L352.57 35.05L353.37 33.49L354.17 35.41L354.97 37.59L355.77 37.99L356.57 40.54L357.37 43.67L358.17 48.64L358.97 50.39L359.77 53.72L360.57 58.22L361.37 58.45L362.17 62.43L362.97 66.14L363.77 66.86L364.57 70.67L365.37 73.58L366.17 76.18L366.97 79.78L367.77 85.2L368.57 87.16L369.37 88.5L370.17 93.66L370.97 95.71L371.77 98.29L372.57 100.05L373.37 103.24L374.17 106.75L374.97 111.08L375.77 112.77L376.57 116.25L377.37 120.11L378.17 121.29L378.97 125.36L379.77 129.89L380.57 130.46L381.37 129.54L382.17 126.92L382.97 133.85L383.77 129.1L384.57 132.18L385.37 132.35L386.17 135.46L386.97 122.47L387.77 129.93L388.57 128.75L389.37 126.01L390.17 130.04L390.97 128.05L391.77 134.13L392.57 129.17L393.37 131.18L394.17 128.28L394.97 129.35L395.77 134.44L396.57 135.98L397.37 133.31L398.17 127.7L398.97 128.74L399.77 128.84L400.57 136.67L401.37 138.85L402.17 132.22L402.97 131.31L403.77 132.2L404.57 129.14L405.37 130.85L406.17 134.14L406.97 133.17L407.77 129.89L408.57 130.13L409.37 130.62L410.17 123.09L410.97 131.25L411.77 130.03L412.57 133.64L413.37 131.6L414.17 128.76L414.97 128.63L415.77 130.98L416.57 129.2L417.37 130.31L418.17 136.55L418.97 141.05L419.77 123.06L420.57 127.84L421.37 130.7L422.17 136.12L422.97 134.64L423.77 126.17L424.57 139.52L425.37 131.59L426.17 127.75L426.97 130.09L427.77 128.12L428.57 130.98L429.37 122.85L430.17 133.87L430.97 134.95L431.77 129.68L432.57 125.96L433.37 130.75L434.17 127.19L434.97 132.28L435.77 134.39L436.57 126.07L437.37 125.52L438.17 125.64L438.97 131.99L439.77 134.3L440.57 134.35L441.37 131.31L442.17 128.71L442.97 128.94L443.77 135.21L444.57 129.96L445.37 130.53L446.17 130.3L446.97 130.67L447.77 131.24L448.57 128.68L449.37 130.18L450.17 129.87L450.97 132.82L451.77 129.32L452.57 130.98L453.37 137.41L454.17 129.04L454.97 131.45L455.77 127.61L456.57 131.12L457.37 130.9L458.17 129.91L458.97 130.63L459.77 132.04L460.57 136.37L461.37 124.66L462.17 135.68L462.97 131.7L463.77 128.49L464.57 129.37L465.37 128.77L466.17 128.12L466.97 126.53L467.77 129.64L468.57 121.23L469.37 133.86L470.17 129.87L470.97 129.22L471.77 126.43L472.57 122.4L473.37 117.97L474.17 117.57L474.97 114.55L475.77 109.79L476.57 106.99L477.37 102.26L478.17 100.37L478.97 98.31L479.77 95.97L480.57 92.29L481.37 89.74L482.17 88.16L482.97 83.48L483.77 80.68L484.57 77.73L485.37 74.95L486.17 69.37L486.97 67.55L487.77 64.24L488.57 63.08L489.37 60.57L490.17 56.66L490.97 53.01L491.77 50.72L492.57 47.55L493.37 43.23L494.17 41.18L494.97 40.05L495.77 37L496.57 35.35L497.37 32.96L498.17 35.98L498.97 32.39L499.77 29.4L500.57 31.37L501.37 34.27L502.17 33.3L502.97 30.96L503.77 29.83L504.57 28.71L505.37 31.8L506.17 35.48L506.97 26.87L507.77 30.41L508.57 30.07L509.37 30.38L510.17 34.6L510.97 32.35L511.77 30.53L512.57 28.1L513.37 31.15L514.17 41.14L514.97 32.1L515.77 30.24L516.57 27.28L517.37 29.11L518.17 23.52L518.97 26.87L519.77 27.11L520.57 28.38L521.37 35.68L522.17 28.68L522.97 29.46L523.77 32.99L524.57 29.5L525.37 30.03L526.17 32.8L526.97 31.73L527.77 32.17L528.57 30.62L529.37 32.68L530.17 29.63L530.97 37.37L531.77 32.23L532.57 36.63L533.37 32.86L534.17 29.72L534.97 31.27L535.77 31.69L536.57 31.13L537.37 26.41L538.17 34.82L538.97 28.55L539.77 36.09L540.57 32.81L541.37 30.83L542.17 34.02L542.97 30.7L543.77 29.05L544.57 35.09L545.37 31.59" stroke="#7E2F8E"/><path d="M312.5 32.53L313.37 37.44L314.17 31.93L314.97 33.85L315.77 27.14L316.57 34.09L317.37 26L318.17 33.02L318.97 25.26L319.77 29.65L320.57 29.92L321.37 28.81L322.17 28.51L322.97 26.94L323.77 25.9L324.57 32.43L325.37 35.27L326.17 39.73L326.97 32.56L327.77 28.95L328.57 30.15L329.37 30.98L330.17 32.44L330.97 33.35L331.77 32.23L332.57 30.12L333.37 36.88L334.17 29.05L334.97 35.92L335.77 31.84L336.57 33.34L337.37 32.5L338.17 34.63L338.97 34.97L339.77 32.08L340.57 34.76L341.37 23.63L342.17 32.67L342.97 33.42L343.77 33.09L344.57 34.73L345.37 39.08L346.17 32.17L346.97 30.39L347.77 36.1L348.57 31.37L349.37 35.22L350.17 31.6L350.97 30.49L351.77 30.35L352.57 31.01L353.37 34.11L354.17 33.61L354.97 37.18L355.77 38.62L356.57 40.89L357.37 44.96L358.17 49.08L358.97 49.77L359.77 54.87L360.57 57.6L361.37 60.88L362.17 61.54L362.97 65.78L363.77 71.32L364.57 70.73L365.37 72.14L366.17 75.49L366.97 81.37L367.77 83.61L368.57 86.11L369.37 88.66L370.17 92.72L370.97 97.1L371.77 97.89L372.57 101.08L373.37 106.45L374.17 108.31L374.97 110.56L375.77 113.91L376.57 116.29L377.37 118.98L378.17 122.31L378.97 126.12L379.77 130.63L380.57 131.28L381.37 124.29L382.17 122.55L382.97 129.12L383.77 129.23L384.57 124.55L385.37 124.66L386.17 128.28L386.97 127.16L387.77 131.98L388.57 127.71L389.37 132.32L390.17 130.19L390.97 130.17L391.77 131.34L392.57 136.68L393.37 132.59L394.17 128.9L394.97 130.21L395.77 131.32L396.57 128.7L397.37 127.9L398.17 127.42L398.97 132.78L399.77 130.14L400.57 131.32L401.37 133.1L402.17 135.11L402.97 130.63L403.77 133.15L404.57 123.42L405.37 130.69L406.17 131.11L406.97 131.69L407.77 124.38L408.57 133.47L409.37 130.97L410.17 132.94L410.97 130.87L411.77 130.6L412.57 126.95L413.37 135.07L414.17 130.58L414.97 125.31L415.77 132.17L416.57 131.11L417.37 133.4L418.17 138.98L418.97 130.89L419.77 126.78L420.57 132.08L421.37 136.52L422.17 129.72L422.97 130.33L423.77 127.36L424.57 127.66L425.37 131.47L426.17 129.31L426.97 136.4L427.77 127.02L428.57 130.01L429.37 127.12L430.17 127.19L430.97 131.54L431.77 131.1L432.57 133.44L433.37 137.28L434.17 131.05L434.97 130.13L435.77 134.13L436.57 128.34L437.37 130.31L438.17 129.17L438.97 133.11L439.77 136.32L440.57 128.13L441.37 128.67L442.17 130.99L442.97 132L443.77 131.53L444.57 131.08L445.37 132.28L446.17 137.12L446.97 128.12L447.77 135.46L448.57 131.72L449.37 131.63L450.17 129.8L450.97 135.84L451.77 126.76L452.57 128.53L453.37 128.16L454.17 126.56L454.97 133.21L455.77 140.74L456.57 129.56L457.37 126.4L458.17 126.89L458.97 132.35L459.77 130.92L460.57 129.7L461.37 136.44L462.17 132.77L462.97 132.67L463.77 125.52L464.57 132.71L465.37 125.55L466.17 130.57L466.97 136.01L467.77 123.46L468.57 133.74L469.37 128.61L470.17 125.1L470.97 129.43L471.77 127.25L472.57 121.49L473.37 119.65L474.17 118.19L474.97 114.99L475.77 111.14L476.57 106.48L477.37 104.97L478.17 100.82L478.97 96.59L479.77 94.03L480.57 90.81L481.37 88.04L482.17 88.45L482.97 82.01L483.77 80.07L484.57 77.6L485.37 75.74L486.17 73.33L486.97 69.73L487.77 65.39L488.57 63.77L489.37 60.32L490.17 57.06L490.97 52.5L491.77 50.66L492.57 47.5L493.37 42.79L494.17 41.93L494.97 38.14L495.77 37.76L496.57 34.16L497.37 33.03L498.17 31.76L498.97 33.3L499.77 34.82L500.57 32.4L501.37 32.87L502.17 28.12L502.97 28.5L503.77 35.12L504.57 29.37L505.37 32.85L506.17 29.9L506.97 32.86L507.77 35.97L508.57 28.15L509.37 29.92L510.17 35.19L510.97 37.28L511.77 33.02L512.57 35.05L513.37 32.49L514.17 29.39L514.97 26.73L515.77 32.46L516.57 27.02L517.37 27.69L518.17 32.71L518.97 36.58L519.77 28.66L520.57 29.43L521.37 23.95L522.17 26.85L522.97 28.88L523.77 26.03L524.57 34.63L525.37 30.72L526.17 32.19L526.97 25.86L527.77 29.55L528.57 40.94L529.37 27.02L530.17 34.17L530.97 28.88L531.77 32.82L532.57 30.54L533.37 29.31L534.17 30.7L534.97 34.3L535.77 26.91L536.57 30.05L537.37 31.35L538.17 29.08L538.97 32.98L539.77 25.37L540.57 30.59L541.37 30.14L542.17 30.2L542.97 34.15L543.77 34.98L544.57 30.6L545.37 30.18" stroke="#77AC30"/><path d="M312.5 27.06L313.37 29.87L314.17 34.7L314.97 29.63L315.77 28.68L316.57 28.13L317.37 30.23L318.17 35.12L318.97 27.63L319.77 33.58L320.57 29.48L321.37 36.22L322.17 28.88L322.97 33.75L323.77 27.88L324.57 25.74L325.37 27.61L326.17 34.95L326.97 34.25L327.77 34.02L328.57 29.21L329.37 30.2L330.17 30.79L330.97 30.32L331.77 29.47L332.57 29.24L333.37 25.98L334.17 31.47L334.97 30.65L335.77 37.12L336.57 35.46L337.37 33.48L338.17 35.03L338.97 30.61L339.77 28.04L340.57 32.68L341.37 32.84L342.17 32.92L342.97 30.9L343.77 33.03L344.57 29.98L345.37 30.38L346.17 30.24L346.97 28.93L347.77 31.24L348.57 30.91L349.37 25.86L350.17 31.6L350.97 29.08L351.77 31.68L352.57 33.79L353.37 33.8L354.17 35.66L354.97 36.62L355.77 39.77L356.57 42.24L357.37 43.11L358.17 47.69L358.97 49.13L359.77 53.19L360.57 55.48L361.37 60.27L362.17 62.38L362.97 62.39L363.77 67.59L364.57 70.4L365.37 74.35L366.17 76.62L366.97 82.08L367.77 84.72L368.57 86.2L369.37 88.75L370.17 93.25L370.97 96L371.77 99.23L372.57 102.04L373.37 106.29L374.17 109.59L374.97 110.98L375.77 116L376.57 118.1L377.37 120.74L378.17 124.24L378.97 125.7L379.77 129.55L380.57 132.13L381.37 132.07L382.17 131.32L382.97 127.39L383.77 127.97L384.57 130.74L385.37 128.16L386.17 128.81L386.97 128.98L387.77 124.43L388.57 130.93L389.37 128.35L390.17 128.41L390.97 130.58L391.77 133.63L392.57 127.71L393.37 129.14L394.17 129.87L394.97 130L395.77 130.05L396.57 133.03L397.37 129.25L398.17 136.04L398.97 130.35L399.77 135.11L400.57 131.46L401.37 128.05L402.17 131.22L402.97 131.95L403.77 128.78L404.57 131.32L405.37 131.79L406.17 131.76L406.97 125.64L407.77 128.39L408.57 129L409.37 134.4L410.17 128.58L410.97 134.76L411.77 129.06L412.57 134.21L413.37 124.34L414.17 136.07L414.97 126.72L415.77 128.08L416.57 136.39L417.37 131.46L418.17 126.04L418.97 127.04L419.77 136.05L420.57 132.39L421.37 134.5L422.17 134.02L422.97 132.8L423.77 124.8L424.57 130.31L425.37 131.47L426.17 131.83L426.97 128.61L427.77 128.53L428.57 133.72L429.37 126.04L430.17 134.25L430.97 131.66L431.77 129.32L432.57 125.26L433.37 131.89L434.17 129.86L434.97 126.59L435.77 128.78L436.57 127.15L437.37 127.44L438.17 129.95L438.97 128.76L439.77 127.84L440.57 130.88L441.37 125.64L442.17 137.19L442.97 133.76L443.77 126.14L444.57 129.42L445.37 132.87L446.17 129.58L446.97 127.3L447.77 132.6L448.57 128.32L449.37 131.19L450.17 131.16L450.97 131.02L451.77 127.22L452.57 134.41L453.37 131.98L454.17 128.67L454.97 134.73L455.77 135.89L456.57 128.97L457.37 130.79L458.17 131.27L458.97 130.34L459.77 133.93L460.57 121.42L461.37 133.97L462.17 132.2L462.97 135.38L463.77 132.14L464.57 125.88L465.37 130.74L466.17 128.89L466.97 132.36L467.77 124.96L468.57 130.27L469.37 134.82L470.17 128.32L470.97 129.31L471.77 125.11L472.57 122.66L473.37 119.49L474.17 116.62L474.97 114.86L475.77 112.56L476.57 106.55L477.37 104.87L478.17 101.34L478.97 99.23L479.77 98.09L480.57 94.17L481.37 87.92L482.17 87.53L482.97 84.03L483.77 82.32L484.57 78.16L485.37 74.96L486.17 71.75L486.97 68.56L487.77 66.21L488.57 63.12L489.37 59.43L490.17 56.01L490.97 53.56L491.77 48.28L492.57 47.16L493.37 44.28L494.17 42.42L494.97 37.71L495.77 37.8L496.57 36.59L497.37 34.44L498.17 30.59L498.97 35.64L499.77 27.74L500.57 31.75L501.37 36.38L502.17 32.31L502.97 25.98L503.77 34.27L504.57 35.68L505.37 29.96L506.17 27.46L506.97 28.37L507.77 32.6L508.57 30.98L509.37 30.55L510.17 27.88L510.97 24.82L511.77 31.91L512.57 27.49L513.37 32.65L514.17 29.72L514.97 34.5L515.77 33.97L516.57 30.26L517.37 34.38L518.17 28.78L518.97 33.3L519.77 31.32L520.57 31.83L521.37 32.61L522.17 31.16L522.97 28.18L523.77 21.81L524.57 35.3L525.37 30.62L526.17 32.12L526.97 34.44L527.77 30.67L528.57 34.33L529.37 31.81L530.17 27.67L530.97 37.91L531.77 30.79L532.57 30.16L533.37 34.57L534.17 29.92L534.97 30.46L535.77 32.66L536.57 27.76L537.37 35.67L538.17 29.55L538.97 32.3L539.77 34.89L540.57 32.13L541.37 32.66L542.17 29L542.97 36.26L543.77 32.18L544.57 33L545.37 26.63" stroke="#4DBEEE"/><path d="M312.5 35.08L313.37 28.24L314.17 37.09L314.97 30.49L315.77 32L316.57 30.39L317.37 33.79L318.17 37.71L318.97 36.44L319.77 27.47L320.57 30.92L321.37 34.31L322.17 28.77L322.97 33.94L323.77 33.92L324.57 35.41L325.37 27.91L326.17 25.44L326.97 34.64L327.77 30.7L328.57 28.54L329.37 24.97L330.17 39.15L330.97 31.18L331.77 29.6L332.57 36.27L333.37 30.35L334.17 31.01L334.97 29.36L335.77 33.46L336.57 30.32L337.37 33.54L338.17 29.73L338.97 31.14L339.77 32.82L340.57 36.09L341.37 26.47L342.17 28.16L342.97 28.88L343.77 33.73L344.57 32.74L345.37 26.4L346.17 29.3L346.97 34.32L347.77 31.51L348.57 31.22L349.37 32.32L350.17 34.72L350.97 27.94L351.77 30.29L352.57 33.26L353.37 35.26L354.17 35.48L354.97 36.74L355.77 38.09L356.57 42.28L357.37 43.35L358.17 47.46L358.97 51.51L359.77 56.98L360.57 58.04L361.37 61.43L362.17 62.83L362.97 65.27L363.77 67.01L364.57 71.72L365.37 76.12L366.17 74.9L366.97 80.39L367.77 84.1L368.57 87.12L369.37 91.45L370.17 92.07L370.97 95.41L371.77 96.96L372.57 100.57L373.37 103.87L374.17 106.41L374.97 111.3L375.77 114.51L376.57 117.05L377.37 121.52L378.17 123.2L378.97 126.45L379.77 128.26L380.57 132.1L381.37 135.11L382.17 128.97L382.97 124.61L383.77 135.18L384.57 131.8L385.37 129.39L386.17 133.79L386.97 131.36L387.77 129.48L388.57 133.98L389.37 128.84L390.17 128.53L390.97 133.98L391.77 129.86L392.57 126.52L393.37 130.6L394.17 128.67L394.97 128.04L395.77 130.91L396.57 127.02L397.37 128.98L398.17 133.44L398.97 128.59L399.77 127.51L400.57 127.73L401.37 132.42L402.17 128.88L402.97 125.96L403.77 129.65L404.57 126.6L405.37 126.24L406.17 130.56L406.97 128.33L407.77 131.4L408.57 127.04L409.37 130.78L410.17 132.27L410.97 130.59L411.77 130.75L412.57 129.29L413.37 129.03L414.17 134.29L414.97 132.64L415.77 129.39L416.57 129.01L417.37 130.28L418.17 122.08L418.97 126.96L419.77 130.81L420.57 128.22L421.37 126.26L422.17 129.39L422.97 136.19L423.77 130.25L424.57 130.4L425.37 123.7L426.17 136.49L426.97 125.58L427.77 131.07L428.57 127.56L429.37 131.5L430.17 129.99L430.97 126.91L431.77 130.28L432.57 127.16L433.37 130.81L434.17 131.87L434.97 131.26L435.77 132.17L436.57 130.94L437.37 126.16L438.17 134.32L438.97 135.9L439.77 130.6L440.57 125.12L441.37 127.17L442.17 126.28L442.97 126.51L443.77 132.89L444.57 130.15L445.37 139.1L446.17 132.49L446.97 128.57L447.77 135.54L448.57 137.16L449.37 134.71L450.17 129.82L450.97 126.75L451.77 122.18L452.57 125.9L453.37 135.38L454.17 137.97L454.97 130.01L455.77 127.07L456.57 135.69L457.37 132.16L458.17 131.92L458.97 130.35L459.77 131.03L460.57 128.78L461.37 127.03L462.17 130.2L462.97 128.01L463.77 124L464.57 133.71L465.37 133.78L466.17 128.76L466.97 124.43L467.77 129.85L468.57 126.87L469.37 131.38L470.17 127.43L470.97 129.46L471.77 124.87L472.57 122.18L473.37 119.16L474.17 114.95L474.97 112.3L475.77 111.29L476.57 106.48L477.37 106.58L478.17 100.31L478.97 95.16L479.77 94.81L480.57 91.82L481.37 89.33L482.17 85.38L482.97 83.91L483.77 79.53L484.57 77.64L485.37 74.8L486.17 71.12L486.97 68.32L487.77 67.32L488.57 59.7L489.37 59.02L490.17 58.22L490.97 51.85L491.77 50.19L492.57 46.93L493.37 43.38L494.17 42.47L494.97 42.27L495.77 36.45L496.57 34.11L497.37 31.81L498.17 34.3L498.97 32.27L499.77 29.93L500.57 32.06L501.37 31.79L502.17 30.17L502.97 34.09L503.77 25.97L504.57 33.85L505.37 30.84L506.17 31.99L506.97 33.18L507.77 29.27L508.57 27.78L509.37 26.38L510.17 29.13L510.97 32.37L511.77 28.25L512.57 35.5L513.37 30.81L514.17 29.32L514.97 29.19L515.77 34.59L516.57 35.68L517.37 25.76L518.17 32.59L518.97 36.17L519.77 34.89L520.57 30.96L521.37 27.3L522.17 31.02L522.97 27.25L523.77 30.31L524.57 29.55L525.37 27.94L526.17 32.22L526.97 30.11L527.77 32.27L528.57 33.05L529.37 29L530.17 33.64L530.97 30.81L531.77 33.55L532.57 31.35L533.37 32.74L534.17 27.65L534.97 30.84L535.77 30.85L536.57 25.93L537.37 40.21L538.17 34.63L538.97 39.75L539.77 31.17L540.57 29.78L541.37 29.14L542.17 30.33L542.97 33.92L543.77 25.68L544.57 30.23L545.37 32.02" stroke="#A2142F"/></g>
<rect x="312.5" y="9.8" width="233" height="181.2" fill="none" stroke="#686868" stroke-width="1"/>
<path d="M363.5 191.0v-2.3M363.5 9.8v2.3M416.83 191.0v-2.3M416.83 9.8v2.3M470.17 191.0v-2.3M470.17 9.8v2.3M523.5 191.0v-2.3M523.5 9.8v2.3M312.5 170.87h2.3M545.5 170.87h-2.3M312.5 150.73h2.3M545.5 150.73h-2.3M312.5 130.6h2.3M545.5 130.6h-2.3M312.5 110.47h2.3M545.5 110.47h-2.3M312.5 90.33h2.3M545.5 90.33h-2.3M312.5 70.2h2.3M545.5 70.2h-2.3M312.5 50.07h2.3M545.5 50.07h-2.3M312.5 29.93h2.3M545.5 29.93h-2.3" stroke="#686868" stroke-width="0.7" fill="none"/>
<g font-size="5.3" fill="#2a2a2a" stroke="#2a2a2a" stroke-width="0.1"><text x="305.1" y="190.55" text-anchor="end">10</text><text x="305.1" y="170.42" text-anchor="end">15</text><text x="305.1" y="150.28" text-anchor="end">20</text><text x="305.1" y="130.15" text-anchor="end">25</text><text x="305.1" y="110.02" text-anchor="end">30</text><text x="305.1" y="89.88" text-anchor="end">35</text><text x="305.1" y="69.75" text-anchor="end">40</text><text x="305.1" y="49.62" text-anchor="end">45</text><text x="305.1" y="29.48" text-anchor="end">50</text><text x="305.1" y="9.35" text-anchor="end">55</text><text x="360.65" y="199.8" text-anchor="middle">100</text><text x="413.98" y="199.8" text-anchor="middle">150</text><text x="467.32" y="199.8" text-anchor="middle">200</text><text x="520.65" y="199.8" text-anchor="middle">250</text></g>
<text x="422" y="211.8" text-anchor="middle" font-size="5.6" fill="#2a2a2a">Time/(s)</text>
<text transform="translate(292 112) rotate(-90)" text-anchor="middle" font-size="5.5" fill="#2a2a2a">CNR/(dB·Hz)</text>
<rect x="484.9" y="112.3" width="55" height="73.3" fill="#fff" stroke="#505050" stroke-width="0.9"/>
<g font-size="4.5" fill="#2a2a2a"><path d="M486.6 118.4H508.2" stroke="#0072BD" stroke-width="1.05"/><text x="510.3" y="118.1" stroke="#2a2a2a" stroke-width="0.1">PRN 1</text><path d="M486.6 128.6H508.2" stroke="#D95319" stroke-width="1.05"/><text x="510.3" y="128.3" stroke="#2a2a2a" stroke-width="0.1">PRN 3</text><path d="M486.6 138.8H508.2" stroke="#EDB120" stroke-width="1.05"/><text x="510.3" y="138.5" stroke="#2a2a2a" stroke-width="0.1">PRN 6</text><path d="M486.6 149H508.2" stroke="#7E2F8E" stroke-width="1.05"/><text x="510.3" y="148.7" stroke="#2a2a2a" stroke-width="0.1">PRN 17</text><path d="M486.6 159.2H508.2" stroke="#77AC30" stroke-width="1.05"/><text x="510.3" y="158.9" stroke="#2a2a2a" stroke-width="0.1">PRN 19</text><path d="M486.6 169.4H508.2" stroke="#4DBEEE" stroke-width="1.05"/><text x="510.3" y="169.1" stroke="#2a2a2a" stroke-width="0.1">PRN 22</text><path d="M486.6 179.6H508.2" stroke="#A2142F" stroke-width="1.05"/><text x="510.3" y="179.3" stroke="#2a2a2a" stroke-width="0.1">PRN 28</text></g>
<g font-family="'Liberation Serif', 'Times New Roman', serif" font-size="10.6" fill="#111" text-anchor="middle"><text x="135.1" y="233.5">(<tspan font-weight="bold">a</tspan>)</text><text x="418.2" y="233.5">(<tspan font-weight="bold">b</tspan>)</text></g>
</svg>
</body></html>
